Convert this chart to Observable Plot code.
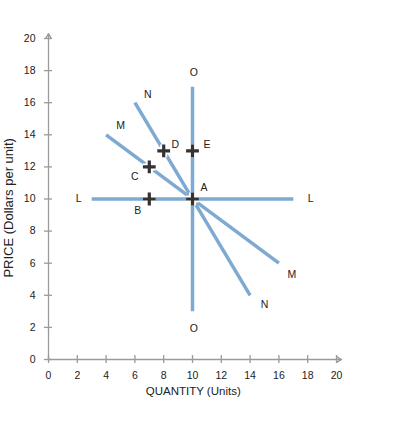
<!DOCTYPE html>
<html><head><meta charset="utf-8">
<script src="https://cdn.jsdelivr.net/npm/d3@7"></script>
<script src="https://cdn.jsdelivr.net/npm/@observablehq/plot@0.6"></script>
<style>body{margin:0;background:#fff;} svg{display:block;}</style>
</head><body><div id="chart"></div>
<script>
// Curves: name, start/end points (quantity, price)
const curveNames = ["L", "O", "M", "N"];
const curveX1 = [3, 10, 4, 6];
const curveY1 = [10, 3, 14, 16];
const curveX2 = [17, 10, 16, 14];
const curveY2 = [10, 17, 6, 4];
// Curve end labels
const curveLabelText = ["L", "L", "O", "O", "M", "M", "N", "N"];
const curveLabelX = [2.1, 18.2, 10.1, 10.1, 5.0, 16.9, 6.9, 15.0];
const curveLabelY = [10, 10, 17.9, 1.9, 14.6, 5.3, 16.5, 3.4];
// Points
const pointNames = ["A", "B", "C", "D", "E"];
const pointX = [10, 7, 7, 8, 10];
const pointY = [10, 10, 12, 13, 13];
const pointLabelX = [10.8, 6.2, 6.0, 8.8, 11.0];
const pointLabelY = [10.7, 9.3, 11.4, 13.4, 13.4];
const xTicks = [0, 2, 4, 6, 8, 10, 12, 14, 16, 18, 20];
const yTicks = [0, 2, 4, 6, 8, 10, 12, 14, 16, 18, 20];
const xTitle = "QUANTITY (Units)";
const yTitle = "PRICE (Dollars per unit)";

const curves = curveNames.map((n, i) => ({n, x1: curveX1[i], y1: curveY1[i], x2: curveX2[i], y2: curveY2[i]}));
const curveLabels = curveLabelText.map((t, i) => ({t, x: curveLabelX[i], y: curveLabelY[i]}));
const points = pointNames.map((n, i) => ({n, x: pointX[i], y: pointY[i], lx: pointLabelX[i], ly: pointLabelY[i]}));

const lineColor = "#7ea9d2";
const axisColor = "#9a9a9a";

const chart = Plot.plot({
  width: 403, height: 432,
  marginLeft: 48, marginRight: 67, marginTop: 38, marginBottom: 73,
  style: {fontFamily: "'Liberation Sans', Arial, sans-serif", fontSize: "10px", color: "#222", background: "#fff"},
  x: {domain: [0, 20]},
  y: {domain: [0, 20]},
  marks: [
    Plot.axisX({ticks: xTicks, tickSize: 0, tickPadding: 12, label: null, fontSize: 10.5}),
    Plot.axisY({ticks: yTicks, tickSize: 0, tickPadding: 13, label: null, fontSize: 10.5}),
    Plot.text([xTitle], {x: 10.05, y: 0, dy: 32, text: d => d, fontSize: 11.5, fill: "#222"}),
    Plot.text([yTitle], {x: 0, y: 9.45, dx: -40, rotate: -90, text: d => d, fontSize: 13, fill: "#222"}),
    // axes lines with arrow heads
    Plot.arrow([{}], {x1: 0, y1: 0, x2: 20.35, y2: 0, stroke: axisColor, strokeWidth: 1.3, headLength: 6, bend: 0}),
    Plot.arrow([{}], {x1: 0, y1: 0, x2: 0, y2: 20.3, stroke: axisColor, strokeWidth: 1.3, headLength: 6, bend: 0}),
    Plot.ruleX(xTicks, {x: d => d, y1: -0.25, y2: 0.25, stroke: axisColor, strokeWidth: 1.3}),
    Plot.ruleY(yTicks, {y: d => d, x1: -0.28, x2: 0.28, stroke: axisColor, strokeWidth: 1.3}),
    // curves
    Plot.link(curves, {x1: "x1", y1: "y1", x2: "x2", y2: "y2", stroke: lineColor, strokeWidth: 3.5}),
    // point markers with white halo
    Plot.dot(points, {x: "x", y: "y", symbol: "plus", r: 4.2, stroke: "white", strokeWidth: 7}),
    Plot.dot(points, {x: "x", y: "y", symbol: "plus", r: 4.2, stroke: "#333", strokeWidth: 3.2}),
    Plot.text(points, {x: "lx", y: "ly", text: "n", fontSize: 10.5, fill: "#222"}),
    Plot.text(curveLabels, {x: "x", y: "y", text: "t", fontSize: 10.5, fill: "#222"})
  ]
});
document.getElementById("chart").appendChild(chart);
</script>
</body></html>
